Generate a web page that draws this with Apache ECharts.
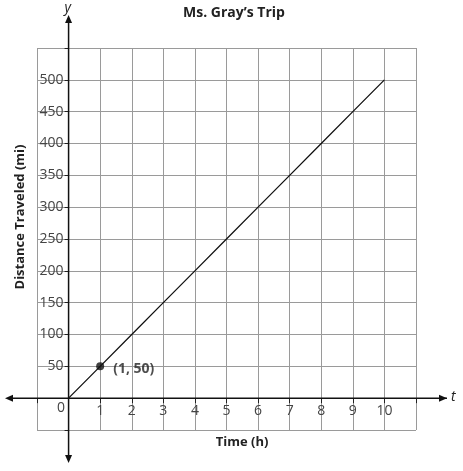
<!DOCTYPE html>
<html><head><meta charset="utf-8">
<script src="https://cdn.jsdelivr.net/npm/echarts@6/dist/echarts.min.js"></script>
<style>html,body{margin:0;padding:0;background:#fff}#c{width:463px;height:471px}</style>
</head><body><div id="c"></div>
<script>
const times = [0,1,2,3,4,5,6,7,8,9,10];
const distances = [0,50,100,150,200,250,300,350,400,450,500];
const highlight = [1,50];
const xTicks = [1,2,3,4,5,6,7,8,9,10];
const yTicks = [50,100,150,200,250,300,350,400,450,500];
const chart = echarts.init(document.getElementById('c'));
const font = 'Open Sans';
const G = {left:37,right:47,top:48,bottom:41};
chart.setOption({
  animation:false,
  title:{text:"Ms. Gray’s Trip",left:229,top:1,textAlign:'center',textStyle:{fontFamily:font,fontSize:14,fontWeight:'bold',color:'#222'}},
  grid:G,
  xAxis:{type:'value',min:-1,max:11,interval:1,
    axisLine:{show:false},
    axisTick:{show:true,length:5,lineStyle:{color:'#222'}},
    splitLine:{show:true,lineStyle:{color:'#9a9a9a',width:1}},
    axisLabel:{color:'#444',fontFamily:font,fontSize:14,margin:6,formatter:v=>xTicks.includes(v)?String(v):''}},
  yAxis:{type:'value',min:-50,max:550,interval:50,
    axisLine:{show:false},
    axisTick:{show:true,length:4,lineStyle:{color:'#222'}},
    splitLine:{show:true,lineStyle:{color:'#9a9a9a',width:1}},
    axisLabel:{color:'#444',fontFamily:font,fontSize:14,margin:5,formatter:v=>yTicks.includes(v)?String(v):''}},
  series:[
    {type:'line',data:times.map((t,i)=>[t,distances[i]]),symbol:'none',lineStyle:{color:'#111',width:1.3},z:3},
    {type:'scatter',data:[highlight],symbolSize:8,itemStyle:{color:'#111'},z:4,
     label:{show:true,position:'right',distance:9,offset:[0,3],formatter:'(1, 50)',fontFamily:font,fontWeight:'bold',fontSize:14,color:'#222'}}
  ]
});
const o = chart.convertToPixel({gridIndex:0},[0,0]);
const arrowStyle = {stroke:'#111',lineWidth:1.5};
chart.setOption({
  xAxis:{offset:-(471-G.bottom-o[1])},
  yAxis:{offset:-(o[0]-G.left)},
  graphic:[
    {type:'line',shape:{x1:8,y1:o[1],x2:447,y2:o[1]},style:arrowStyle,z:10},
    {type:'polygon',shape:{points:[[447,o[1]],[439,o[1]-3.5],[439,o[1]+3.5]]},style:{fill:'#111'},z:10},
    {type:'polygon',shape:{points:[[5,o[1]],[13,o[1]-3.5],[13,o[1]+3.5]]},style:{fill:'#111'},z:10},
    {type:'line',shape:{x1:o[0],y1:18,x2:o[0],y2:460},style:arrowStyle,z:10},
    {type:'polygon',shape:{points:[[o[0],15],[o[0]-3.5,23],[o[0]+3.5,23]]},style:{fill:'#111'},z:10},
    {type:'polygon',shape:{points:[[o[0],463],[o[0]-3.5,455],[o[0]+3.5,455]]},style:{fill:'#111'},z:10},
    {type:'text',x:451,y:o[1]-8,style:{text:'t',fontFamily:font,fontStyle:'italic',fontSize:14,fill:'#222'}},
    {type:'text',x:o[0]-4,y:1,style:{text:'y',fontFamily:font,fontStyle:'italic',fontSize:14,fill:'#222'}},
    {type:'text',x:57,y:o[1]+3,style:{text:'0',fontFamily:font,fontSize:14,fill:'#444'}},
    {type:'text',x:242,y:436,style:{text:'Time (h)',fontFamily:font,fontWeight:'bold',fontSize:13,fill:'#222',align:'center'}},
    {type:'text',x:20,y:217,rotation:Math.PI/2,style:{text:'Distance Traveled (mi)',fontFamily:font,fontWeight:'bold',fontSize:13,fill:'#222',align:'center',verticalAlign:'middle'}}
  ]
});
</script></body></html>
